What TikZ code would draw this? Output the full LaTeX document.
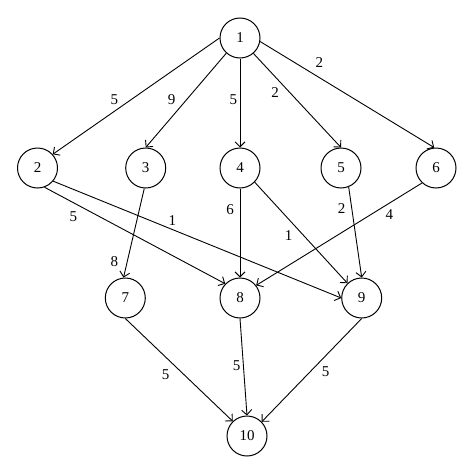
\documentclass[tikz,border=0pt]{standalone}
\usepackage{fontspec}
\setmainfont{Liberation Serif}
\usetikzlibrary{arrows.meta}
\begin{document}
\begin{tikzpicture}[x=1pt,y=-1pt,
  vertex/.style={circle,draw,line width=1pt,minimum size=40pt,inner sep=0pt,font=\fontsize{15}{15}\selectfont},
  edge/.style={line width=0.9pt,-{Straight Barb[length=5pt,width=10pt,line width=0.9pt]}},
  wt/.style={font=\fontsize{15}{15}\selectfont,inner sep=0pt}]
\useasboundingbox (0,0) rectangle (474,474);
% vertices
\node[vertex] (n1)  at (240,38)   {1};
\node[vertex] (n2)  at (37.5,168) {2};
\node[vertex] (n3)  at (145.7,168){3};
\node[vertex] (n4)  at (240,168)  {4};
\node[vertex] (n5)  at (341,168)  {5};
\node[vertex] (n6)  at (436,168)  {6};
\node[vertex] (n7)  at (125.3,298){7};
\node[vertex] (n8)  at (240,298)  {8};
\node[vertex] (n9)  at (361.7,298){9};
\node[vertex] (n10) at (247,436)  {10};
% arcs
\draw[edge] (n1.180) -- (n2.42);
\draw[edge] (n1.228) -- (n3.90);
\draw[edge] (n1.south) -- (n4.north);
\draw[edge] (n1.311) -- (n5.90);
\draw[edge] (n1.350) -- (n6.95);
\draw[edge] (n2.290) -- (n8.136);
\draw[edge] (n2.320) -- (n9.180);
\draw[edge] (n3.266) -- (n7.95);
\draw[edge] (n4.south) -- (n8.north);
\draw[edge] (n4.316) -- (n9.134);
\draw[edge] (n5.292) -- (n9.90);
\draw[edge] (n6.227) -- (n8.38);
\draw[edge] (n7.270) -- (n10.134);
\draw[edge] (n8.south) -- (n10.north);
\draw[edge] (n9.270) -- (n10.44);
% weights
\node[wt] (w12)  at (114.3,99.3) {5};
\node[wt] (w13)  at (171.7,99.3) {9};
\node[wt] (w14)  at (233.3,99.3) {5};
\node[wt] (w15)  at (275,92.7)   {2};
\node[wt] (w16)  at (319.3,62.7) {2};
\node[wt] (w28)  at (73.3,216.7) {5};
\node[wt] (w29)  at (172.3,220.7){1};
\node[wt] (w48)  at (230,209.3)  {6};
\node[wt] (w59)  at (341.7,208.3){2};
\node[wt] (w68)  at (389.3,215)  {4};
\node[wt] (w49)  at (288.7,235.5){1};
\node[wt] (w37)  at (114.3,261.7){8};
\node[wt] (w710) at (165.7,374.3){5};
\node[wt] (w810) at (236.7,366)  {5};
\node[wt] (w910) at (325.7,371.7){5};
\end{tikzpicture}
\end{document}
